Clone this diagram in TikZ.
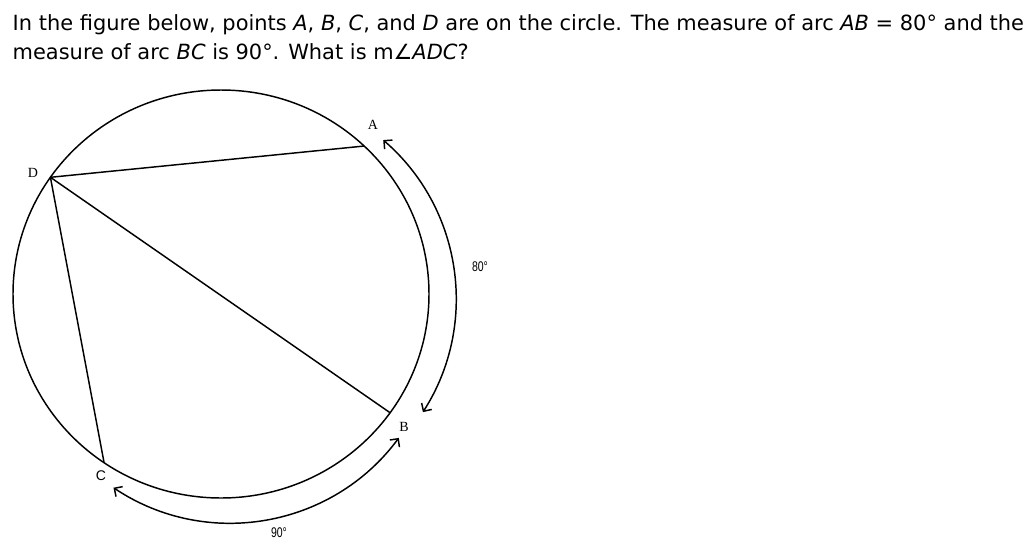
\documentclass[tikz,border=0pt]{standalone}
\usepackage{fontspec}
\setmainfont{DejaVu Sans}
\newfontfamily\labelserif{Liberation Serif}
\newfontfamily\labelsans{Liberation Sans}
\newfontfamily\symfont{DejaVu Sans}
\usepackage{graphicx}
\usetikzlibrary{arrows.meta}
\usetikzlibrary{calc}

\begin{document}
\begin{tikzpicture}[x=0.75pt,y=-0.75pt,>={Straight Barb[length=4.5pt,width=9pt]},line width=1.1pt]
	\tikzstyle{question}=[anchor=base west, inner sep=0pt, font=\fontsize{15.7}{21}\selectfont]
	\tikzstyle{ptlabel}=[inner sep=0pt, font=\labelserif\fontsize{10.5}{12}\selectfont]
	\tikzstyle{arclabel}=[inner sep=0pt, font=\labelsans\fontsize{10.5}{12}\selectfont]
	\useasboundingbox (0,0) rectangle (1035,547);
	\node[question] (q1) at (12,30.5) {In the figure below, points \textit{A}, \textit{B}, \textit{C}, and \textit{D} are on the circle. The measure of arc \textit{AB} = 80° and the};
	\node[question] (q2) at (12,59) {measure of arc \textit{BC} is 90°. What is m{\symfont ∠}\textit{ADC}?};
	% circle and the four points on it
	\coordinate (O) at (221,294);
	\draw (O) ellipse [x radius=208, y radius=204];
	\path (O) ++(-46.5:208 and 204) coordinate (A);
	\path (O) ++(214.9:208 and 204) coordinate (D);
	\path (O) ++(35.6:208 and 204) coordinate (B);
	\path (O) ++(124.2:208 and 204) coordinate (C);
	\node[ptlabel] (lA) at (373,125) {A};
	\node[ptlabel] (lD) at (33,173) {D};
	\node[ptlabel] (lB) at (404,427) {B};
	\node[arclabel] (lC) at (101,476) {C};
	\path
		(D) edge (A)
		(D) edge (B)
		(D) edge (C);
	% arcs with arrows
	\path (246,299) ++(-49.2:210) coordinate (ab);
	\draw[<->] (ab) arc[start angle=-49.2, end angle=32.6, radius=210];
	\path (230,313) ++(36.5:210) coordinate (bc);
	\draw[<->] (bc) arc[start angle=36.5, end angle=123.7, radius=210];
	\node[arclabel] (m80) at (480,267) {\scalebox{0.75}[1]{80°}};
	\node[arclabel] (m90) at (279,533) {\scalebox{0.75}[1]{90°}};
\end{tikzpicture}
\end{document}
